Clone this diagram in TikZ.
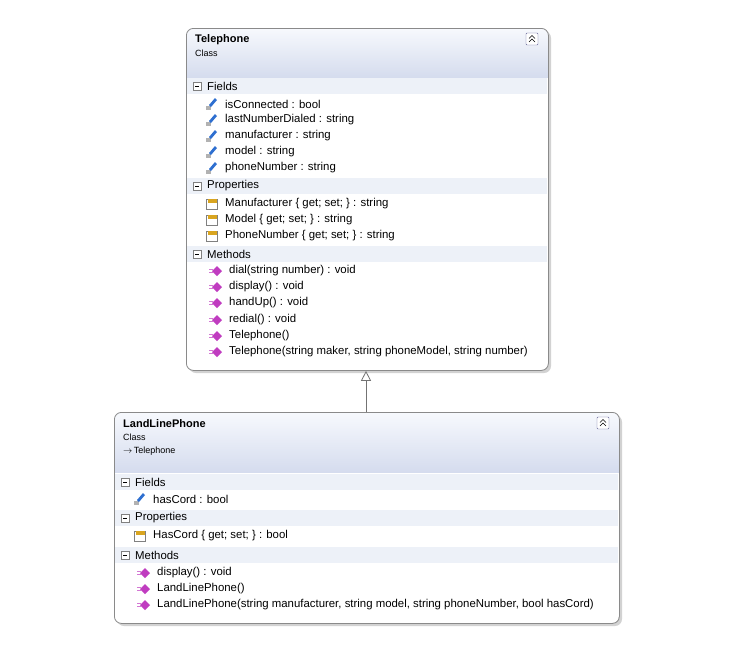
\documentclass[tikz,border=0pt]{standalone}
\usepackage{fontspec}
\setmainfont{Liberation Sans}
\usetikzlibrary{arrows.meta}
\definecolor{hdrtop}{HTML}{F7F9FD}
\definecolor{hdrbot}{HTML}{D5DCEE}
\definecolor{band}{HTML}{EDF1F8}
\definecolor{boxline}{HTML}{8A8A8A}
\definecolor{fieldc}{HTML}{2E6FD0}
\definecolor{methc}{HTML}{C03CC0}
\definecolor{propc}{HTML}{D9A520}
\tikzset{
  txt/.style={anchor=west,inner sep=0pt,font=\fontsize{11.4}{13}\selectfont},
  ttl/.style={anchor=west,inner sep=0pt,font=\fontsize{11}{13}\selectfont\bfseries},
  sub/.style={anchor=west,inner sep=0pt,font=\fontsize{9}{10}\selectfont},
  classbox/.style={draw=boxline,rounded corners=7pt,line width=0.8pt},
}
\newcommand{\sect}[4]{% x1,x2,y,label
  \fill[band] (#1+1,#3-8) rectangle (#2-1,#3+8);
  \draw[gray,line width=0.5pt,fill=white] (#1+7,#3-4) rectangle (#1+15,#3+4);
  \draw[black,line width=0.6pt] (#1+9,#3) -- (#1+13,#3);
  \node[txt] at (#1+21,#3) {#4};}
\newcommand{\fld}[3]{% x,y,text
  \fill[gray!60] (#1-3,#2+2) rectangle (#1+2,#2+6);
  \fill[fieldc] (#1,#2+1) -- (#1+6,#2-6) -- (#1+8,#2-4) -- (#1+2,#2+3) -- cycle;
  \node[txt] at (#1+16,#2) {#3};}
\newcommand{\prp}[3]{%
  \draw[gray,fill=white] (#1-3,#2-5) rectangle (#1+8,#2+5);
  \fill[propc] (#1-1,#2-5) rectangle (#1+8,#2-1);
  \node[txt] at (#1+16,#2) {#3};}
\newcommand{\mth}[3]{%
  \draw[methc!70,line width=0.6pt] (#1-4,#2-2) -- (#1,#2-2) (#1-4,#2+1) -- (#1,#2+1);
  \fill[methc] (#1+4,#2-5) -- (#1+9,#2) -- (#1+4,#2+5) -- (#1-1,#2) -- cycle;
  \node[txt] at (#1+16,#2) {#3};}
\newcommand{\collapse}[2]{%
  \draw[gray!80!blue,fill=white,rounded corners=1pt] (#1-6,#2-6) rectangle (#1+6,#2+6);
  \draw[black,line width=0.6pt] (#1-3,#2-0.5) -- (#1,#2-3.5) -- (#1+3,#2-0.5) (#1-3,#2+3) -- (#1,#2) -- (#1+3,#2+3);}
\begin{document}
\begin{tikzpicture}[x=1pt,y=-1pt]
\useasboundingbox[fill=white] (0,0) rectangle (739,649);
% ---------- Telephone ----------
\fill[gray!35,rounded corners=7pt] (189,31) rectangle (551,373);
\begin{scope}
\clip[rounded corners=7pt] (186,28) rectangle (548,370);
\fill[white] (186,28) rectangle (548,370);
\shade[top color=hdrtop,bottom color=hdrbot] (186,28) rectangle (548,77);
\end{scope}
\node[classbox,minimum width=362pt,minimum height=342pt,anchor=north west] (tel) at (186,28) {};
\node[ttl] (telname) at (195,40) {Telephone};
\node[sub] (telkind) at (195,53) {Class};
\collapse{532}{39}
\sect{186}{548}{86}{Fields}
\fld{209}{104}{isConnected : bool}
\fld{209}{120}{lastNumberDialed : string}
\fld{209}{136}{manufacturer : string}
\fld{209}{152}{model : string}
\fld{209}{168}{phoneNumber : string}
\sect{186}{548}{186}{Properties}
\prp{209}{204}{Manufacturer \{ get; set; \} : string}
\prp{209}{220}{Model \{ get; set; \} : string}
\prp{209}{236}{PhoneNumber \{ get; set; \} : string}
\sect{186}{548}{254}{Methods}
\mth{213}{271}{dial(string number) : void}
\mth{213}{287}{display() : void}
\mth{213}{303}{handUp() : void}
\mth{213}{320}{redial() : void}
\mth{213}{336}{Telephone()}
\mth{213}{352}{Telephone(string maker, string phoneModel, string number)}
% ---------- LandLinePhone ----------
\fill[gray!35,rounded corners=7pt] (117,415) rectangle (622,626);
\begin{scope}
\clip[rounded corners=7pt] (114,412) rectangle (619,623);
\fill[white] (114,412) rectangle (619,623);
\shade[top color=hdrtop,bottom color=hdrbot] (114,412) rectangle (619,472);
\end{scope}
\node[classbox,minimum width=505pt,minimum height=211pt,anchor=north west] (llp) at (114,412) {};
\node[ttl] (llpname) at (123,424) {LandLinePhone};
\node[sub] (llpkind) at (123,437) {Class};
\node[sub] (llpbase) at (123,451) {$\rightarrow$\,Telephone};
\collapse{603}{423}
\sect{114}{619}{482}{Fields}
\fld{137}{499}{hasCord : bool}
\sect{114}{619}{518}{Properties}
\prp{137}{536}{HasCord \{ get; set; \} : bool}
\sect{114}{619}{555}{Methods}
\mth{141}{573}{display() : void}
\mth{141}{589}{LandLinePhone()}
\mth{141}{605}{LandLinePhone(string manufacturer, string model, string phoneNumber, bool hasCord)}
% ---------- inheritance ----------
\draw[gray!90!black,line width=0.8pt,-{Triangle[open,length=10pt,width=10pt,fill=white]}] (llp.north -| 366,0) -- (tel.south -| 366,0);
\end{tikzpicture}
\end{document}
